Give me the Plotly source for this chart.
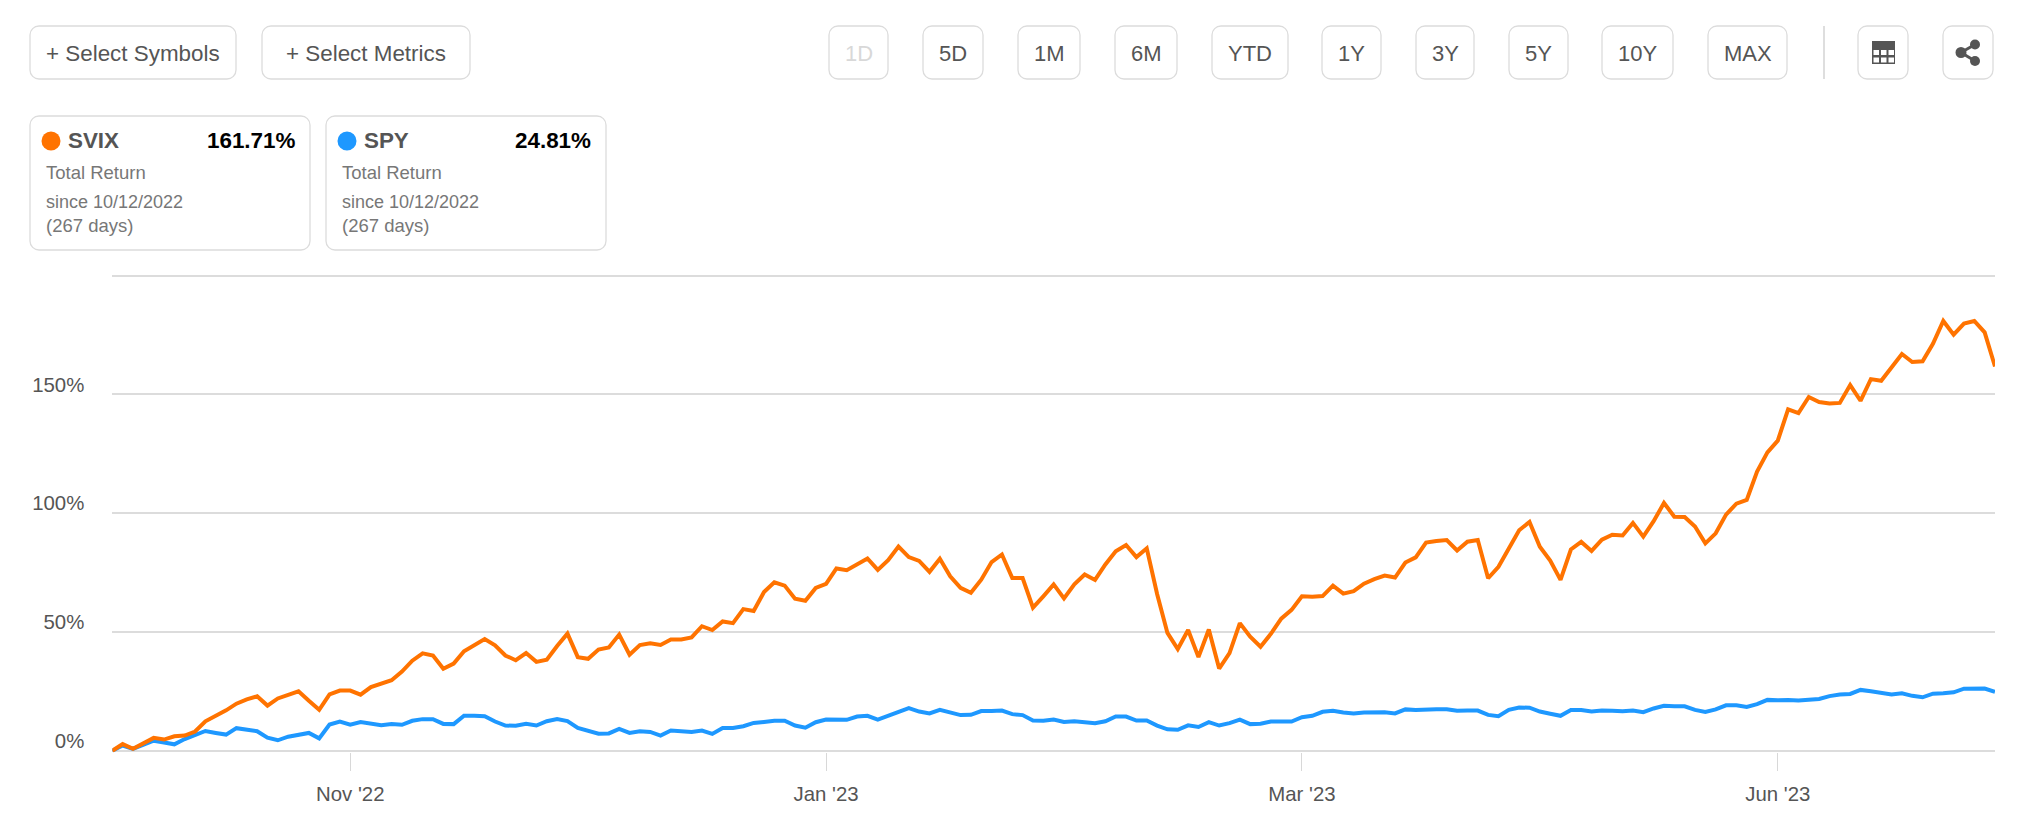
import pandas as pd
import plotly.graph_objects as go

W, H = 2035, 828

svix = [0, 2.8, 0.8, 3.1, 5.4, 4.7, 6.1, 6.4, 8.1, 12.4, 14.7, 17, 19.8, 21.6, 22.9, 19, 22, 23.3, 25, 21,
        17.2, 23.7, 25.3, 25.3, 23.6, 26.8, 28.1, 29.7, 33.3, 37.9, 41, 40.1, 34.5, 36.7, 41.9, 44.6, 47, 44.4, 40.1, 38.1,
        41.1, 37.4, 38.3, 44.1, 49.3, 39.4, 38.7, 42.6, 43.5, 48.9, 40.4, 44.5, 45.2, 44.5, 46.8, 46.8, 47.7, 52.4, 50.8, 54.4,
        53.7, 59.6, 58.8, 66.8, 70.9, 69.5, 64, 63.1, 68.5, 70.2, 76.7, 76, 78.4, 80.9, 76.1, 80.2, 85.9, 81.5, 79.9, 75.3,
        80.8, 73.4, 68.6, 66.5, 72, 79.4, 82.6, 72.7, 72.7, 60.2, 65, 70, 64.1, 70, 74.2, 71.9, 78.4, 84, 86.6, 81.5,
        85.2, 66, 49.6, 42.8, 50.8, 39.4, 51, 34.6, 41.1, 53.7, 48, 43.8, 49.2, 55.6, 59.3, 65, 64.8, 65.1, 69.5, 66.1,
        67.2, 70.3, 72.2, 73.7, 72.9, 79.2, 81.4, 87.6, 88.3, 88.7, 84.3, 88, 88.7, 72.6, 77.4, 85, 92.8, 96.3, 85.9, 80,
        71.9, 84.7, 87.9, 84.1, 88.8, 90.9, 90.6, 95.9, 90.1, 96.6, 104.3, 98.5, 98.4, 94.4, 87.3, 91.5, 99.4, 104, 105.6, 117.5,
        125.6, 130.5, 143.7, 142.1, 148.9, 146.8, 146.2, 146.4, 153.9, 147.3, 156.4, 155.7, 161.4, 167, 163.6, 163.9, 171.3, 180.9, 175.1, 179.8,
        180.9, 176.1, 161.71]

spy = [0, 2.2, 0.8, 2.7, 4.2, 3.5, 2.7, 4.9, 6.4, 8.3, 7.5, 6.8, 9.5, 8.8, 8.2, 5.5, 4.4, 5.9, 6.9, 7.5,
       5.2, 11, 12.3, 11, 12.1, 11.2, 10.7, 11.2, 10.9, 12.6, 13.3, 13.3, 11.3, 11.2, 14.7, 14.7, 14.5, 12.3, 10.6, 10.5,
       11.3, 10.6, 12.4, 13.3, 12.5, 9.6, 8.2, 7.2, 7.3, 9.2, 7.5, 8.2, 7.9, 6.4, 8.5, 8.2, 7.9, 8.5, 7.1, 9.6,
       9.6, 10.3, 11.7, 12.1, 12.6, 12.6, 10.6, 9.7, 12, 13.1, 13.1, 13, 14.4, 14.7, 13.1, 14.8, 16.1, 17.9, 16.5, 15.7,
       17.2, 16.1, 15, 15.1, 16.7, 16.7, 16.9, 15.4, 15, 12.7, 12.6, 13.1, 12.1, 12.4, 12.1, 11.6, 12.4, 14.4, 14.4, 12.7,
       12.7, 10.6, 9, 8.8, 10.7, 10, 12, 10.6, 11.6, 13.1, 11.2, 11.4, 12.3, 12.4, 12.3, 14.1, 14.7, 16.4, 16.8, 16.1,
       15.7, 16.1, 16.2, 16.2, 15.7, 17.4, 17.1, 17.5, 17.5, 17.5, 16.8, 16.9, 16.9, 15.1, 14.5, 17.2, 18.2, 18.1, 16.5, 15.6,
       14.7, 17.1, 17.1, 16.5, 16.9, 16.8, 16.6, 16.9, 16.2, 17.8, 18.9, 18.7, 18.7, 17.2, 16.3, 17.4, 19.1, 19.1, 18.4, 19.6,
       21.4, 21.2, 21.4, 21.1, 21.6, 21.8, 23, 23.7, 23.9, 25.6, 25, 24.3, 23.7, 24.2, 23.1, 22.5, 24, 24.2, 24.6, 26.1,
       26.2, 26.2, 24.81]

holidays = ["2022-11-24", "2022-12-26", "2023-01-02", "2023-01-16", "2023-02-20",
            "2023-04-07", "2023-05-29", "2023-06-19", "2023-07-04"]
dates = [d.strftime("%Y-%m-%d") for d in pd.bdate_range("2022-10-12", "2023-07-10") if d.strftime("%Y-%m-%d") not in holidays][:len(svix)]

x_tick_dates = [dates[23], dates[69], dates[115], dates[161]]
x_tick_labels = ["Nov '22", "Jan '23", "Mar '23", "Jun '23"]
y_tick_vals = [0, 50, 100, 150, 200]
y_tick_labels = ["0%", "50%", "100%", "150%", ""]

range_buttons = ["1D", "5D", "1M", "6M", "YTD", "1Y", "3Y", "5Y", "10Y", "MAX"]
range_button_edges = [(829, 888), (923, 983), (1018, 1080), (1115, 1177), (1212, 1288),
                      (1322, 1381), (1416, 1474), (1509, 1568), (1602, 1673), (1708, 1787)]

ORANGE, BLUE = "#ff7300", "#1e98ff"
FONT = "Liberation Sans"
BORDER = "#dcdcdc"
TXT = "#555555"


def px(v):
    return v / W


def py(v):
    return 1 - v / H


def rrect(x0, y0, x1, y1, r=9, line=BORDER, fill="white"):
    k = 0.45 * r
    P = lambda a, b: f"{px(a):.6f},{py(b):.6f}"
    d = (f"M{P(x0 + r, y0)} L{P(x1 - r, y0)} C{P(x1 - k, y0)} {P(x1, y0 + k)} {P(x1, y0 + r)} "
         f"L{P(x1, y1 - r)} C{P(x1, y1 - k)} {P(x1 - k, y1)} {P(x1 - r, y1)} "
         f"L{P(x0 + r, y1)} C{P(x0 + k, y1)} {P(x0, y1 - k)} {P(x0, y1 - r)} "
         f"L{P(x0, y0 + r)} C{P(x0, y0 + k)} {P(x0 + k, y0)} {P(x0 + r, y0)} Z")
    return dict(type="path", xref="paper", yref="paper", path=d, line=dict(color=line, width=1.3), fillcolor=fill)


def box(x0, y0, x1, y1, fill, line_w=0, line="rgba(0,0,0,0)"):
    return dict(type="rect", xref="paper", yref="paper", x0=px(x0), x1=px(x1), y0=py(y0), y1=py(y1),
                fillcolor=fill, line=dict(width=line_w, color=line))


def dot(cx, cy, r, fill):
    return dict(type="circle", xref="paper", yref="paper", x0=px(cx - r), x1=px(cx + r), y0=py(cy + r), y1=py(cy - r),
                fillcolor=fill, line=dict(width=0))


def seg(x0, y0, x1, y1, color, w):
    return dict(type="line", xref="paper", yref="paper", x0=px(x0), x1=px(x1), y0=py(y0), y1=py(y1),
                line=dict(color=color, width=w))


def label(x, y, text, size, color=TXT, anchor="left", bold=False):
    return dict(xref="paper", yref="paper", x=px(x), y=py(y), text=f"<b>{text}</b>" if bold else text,
                showarrow=False, xanchor=anchor, yanchor="middle", borderpad=0, borderwidth=0,
                font=dict(family=FONT, size=size, color=color))


shapes, notes = [], []

shapes += [rrect(30, 26, 236, 79), rrect(262, 26, 470, 79)]
notes += [label(133, 53, "+ Select Symbols", 22.4, anchor="center"),
          label(366, 53, "+ Select Metrics", 22.4, anchor="center")]

for name, (a, b) in zip(range_buttons, range_button_edges):
    shapes.append(rrect(a, 26, b, 79))
    notes.append(label((a + b) / 2, 53, name, 22, color="#d8d8d8" if name == "1D" else TXT, anchor="center"))

shapes.append(seg(1824, 26, 1824, 79, "#cccccc", 1.3))
shapes += [rrect(1858, 26, 1908, 79), rrect(1943, 26, 1993, 79)]

shapes.append(box(1872, 41, 1895, 64, TXT))
for cx0 in (1873.5, 1881, 1888.5):
    for cy0 in (50, 57.5):
        shapes.append(box(cx0, cy0, cx0 + 5.5, cy0 + 5, "white"))

shapes += [seg(1975, 44.5, 1961, 52.5, TXT, 3), seg(1961, 52.5, 1975, 61, TXT, 3),
           dot(1975, 44.5, 5, TXT), dot(1961, 52.5, 5.5, TXT), dot(1975, 61, 5, TXT)]

cards = [(30, 310, ORANGE, "SVIX", "161.71%"), (326, 606, BLUE, "SPY", "24.81%")]
for x0, x1, col, sym, ret in cards:
    shapes.append(rrect(x0, 116, x1, 250))
    shapes.append(dot(x0 + 21, 141, 9.5, col))
    notes += [label(x0 + 38, 141, sym, 22.4, bold=True),
              label(x1 - 15, 141, ret, 22.4, color="#000000", anchor="right", bold=True),
              label(x0 + 16, 172, "Total Return", 18.5, color="#777777"),
              label(x0 + 16, 202.5, "since 10/12/2022", 18, color="#777777"),
              label(x0 + 16, 225.5, "(267 days)", 18.5, color="#777777")]

fig = go.Figure()
fig.add_trace(go.Scatter(x=dates, y=spy, mode="lines", name="SPY", line=dict(color=BLUE, width=4), cliponaxis=False))
fig.add_trace(go.Scatter(x=dates, y=svix, mode="lines", name="SVIX", line=dict(color=ORANGE, width=4), cliponaxis=False))

fig.update_layout(
    width=W, height=H, margin=dict(l=0, r=0, t=0, b=0, autoexpand=False),
    paper_bgcolor="white", plot_bgcolor="white", showlegend=False, hovermode=False,
    shapes=shapes, annotations=notes,
    font=dict(family=FONT, color=TXT),
    xaxis=dict(type="category", domain=[px(112.3), px(1995)], range=[0, len(dates) - 1],
               tickmode="array", tickvals=x_tick_dates, ticktext=x_tick_labels,
               ticks="outside", ticklen=18, tickwidth=1.3, tickcolor="#d8d8d8",
               ticklabelstandoff=5,
               showgrid=False, zeroline=False, showline=False,
               tickfont=dict(family=FONT, size=20.4, color=TXT)),
    yaxis=dict(domain=[py(752.3), py(274.0)], range=[-0.66, 200.66],
               tickmode="array", tickvals=y_tick_vals, ticktext=y_tick_labels,
               showgrid=True, gridcolor="#dcdcdc", gridwidth=1.5, zeroline=False, showline=False,
               ticks="", ticklabelstandoff=27, ticklabelshift=-10,
               tickfont=dict(family=FONT, size=20.4, color=TXT)),
)

fig.write_html("out.html", config=dict(displayModeBar=False, responsive=False),
               post_script="document.body.style.margin='0';document.body.style.overflow='hidden';")
